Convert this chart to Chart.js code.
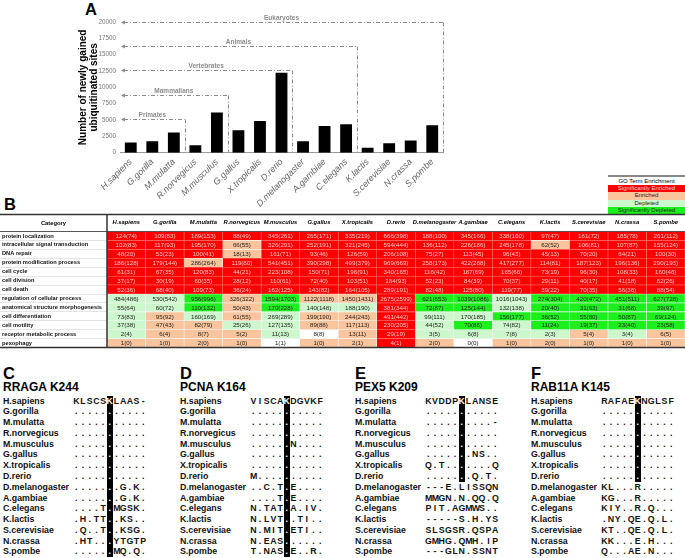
<!DOCTYPE html>
<html>
<head>
<meta charset="utf-8">
<script src="https://cdn.jsdelivr.net/npm/chart.js@4.4.1/dist/chart.umd.min.js"></script>
<style>
  body { margin: 0; background: #fff; font-family: "Liberation Sans", Arial, sans-serif; }
  #page { position: relative; width: 685px; height: 558px; overflow: hidden; }
  .abs { position: absolute; }
  .letter { font-weight: bold; font-size: 16.5px; line-height: 1; }
  .gene { font-weight: bold; font-size: 12px; line-height: 1; }
  .row { position: absolute; height: 10.77px; line-height: 10.77px; font-weight: bold; font-size: 8.8px; white-space: nowrap; color: #111; }
  .row .sq { position: absolute; top: 0; }
  .row .c { display: inline-block; width: 6.7px; text-align: center; }
  .row .on { color: #fff; }
  .hlcol { position: absolute; background: #000; width: 6.7px; }
  #legend { position: absolute; left: 608px; top: 175px; width: 77px; font-size: 6px; text-align: center; }
  #legend div { height: 7.3px; line-height: 7.3px; }
</style>
</head>
<body>
<div id="page">
  <div class="abs letter" style="left:85px;top:1px">A</div>
  <div class="abs" style="left:78px;top:0;width:372px;height:210px"><canvas id="barChart" width="372" height="210"></canvas></div>

  <div id="legend">
    <div style="height:8px;line-height:8px;border-top:2px solid #888;color:#000">GO Term Enrichment</div>
    <div style="background:#ff0000;color:#ffd0d0">Significantly Enriched</div>
    <div style="background:#fac59c;color:#222">Enriched</div>
    <div style="background:#cdf7cd;color:#222">Depleted</div>
    <div style="background:#1cf01c;color:#222">Significantly Depleted</div>
  </div>

  <div class="abs letter" style="left:4px;top:196px">B</div>
  <div class="abs" style="left:0;top:212px;width:685px;height:142px"><canvas id="heatChart" width="685" height="142"></canvas></div>

  <div id="alignments"></div>
</div>

<script>
// Panel A: newly gained ubiquitination sites per species
const species = ['H.sapiens', 'G.gorilla', 'M.mulatta', 'R.norvegicus', 'M.musculus', 'G.gallus', 'X.tropicalis',
  'D.rerio', 'D.melanogaster', 'A.gambiae', 'C.elegans', 'K.lactis', 'S.cerevisiae', 'N.crassa', 'S.pombe'];
const gainedSites = [1550, 1750, 3100, 1150, 6150, 3450, 4850, 12250, 1750, 4100, 4350, 750, 1450, 1850, 4200];
const yTicks = [0, 2500, 5000, 7500, 10000, 12500, 15000, 17500, 20000];

// clade brackets drawn over the bars
const clades = ['Primates', 'Mammalians', 'Vertebrates', 'Animals', 'Eukaryotes'];
const cladeLevels = [5100, 8800, 12600, 16300, 20000];
const cladeLastSpecies = ['M.mulatta', 'M.musculus', 'D.rerio', 'C.elegans', 'S.pombe'];

// Panel B: GO term enrichment, observed(expected)
const categories = ['protein localization', 'intracellular signal transduction', 'DNA repair',
  'protein modification process', 'cell cycle', 'cell division', 'cell death', 'regulation of cellular process',
  'anatomical structure morphogenesis', 'cell differentiation', 'cell motility', 'receptor metabolic process', 'pexophagy'];
const observed = [
  [124, 109, 189, 88, 345, 265, 335, 666, 188, 345, 338, 97, 161, 185, 261],
  [102, 117, 195, 66, 326, 252, 321, 594, 136, 226, 245, 62, 106, 107, 155],
  [48, 53, 100, 18, 161, 93, 126, 206, 75, 113, 96, 45, 70, 64, 100],
  [186, 179, 286, 119, 541, 390, 499, 969, 258, 422, 417, 114, 187, 196, 290],
  [61, 67, 120, 44, 223, 150, 196, 340, 116, 187, 165, 73, 96, 108, 160],
  [37, 30, 60, 28, 110, 72, 103, 184, 52, 84, 70, 29, 40, 41, 62],
  [52, 68, 109, 36, 162, 143, 164, 289, 82, 125, 119, 39, 70, 56, 88],
  [484, 530, 956, 326, 1594, 1122, 1450, 2675, 621, 1039, 1016, 274, 420, 451, 627],
  [55, 60, 110, 50, 170, 140, 188, 381, 72, 125, 132, 20, 31, 31, 39],
  [73, 95, 160, 61, 269, 199, 244, 491, 99, 170, 156, 36, 55, 50, 69],
  [37, 47, 82, 25, 127, 89, 117, 230, 44, 70, 74, 11, 19, 23, 23],
  [2, 6, 8, 5, 11, 8, 13, 29, 3, 6, 7, 2, 5, 3, 6],
  [1, 1, 2, 1, 1, 1, 2, 4, 2, 0, 1, 2, 1, 1, 1]
];
const expected = [
  [74, 83, 153, 49, 261, 171, 219, 398, 100, 166, 160, 47, 72, 78, 112],
  [83, 93, 170, 55, 291, 191, 245, 444, 112, 186, 178, 52, 81, 87, 124],
  [20, 23, 41, 13, 71, 46, 59, 108, 27, 45, 43, 13, 20, 21, 30],
  [128, 144, 264, 80, 451, 298, 379, 669, 173, 288, 277, 81, 123, 136, 193],
  [31, 35, 83, 21, 108, 71, 91, 165, 42, 69, 66, 19, 30, 33, 46],
  [17, 19, 35, 12, 61, 40, 51, 93, 23, 39, 37, 11, 17, 18, 26],
  [36, 40, 73, 24, 125, 82, 105, 191, 48, 80, 77, 22, 35, 36, 54],
  [486, 542, 996, 322, 1703, 1118, 1431, 2599, 653, 1086, 1043, 304, 472, 511, 728],
  [64, 72, 132, 43, 228, 148, 190, 344, 87, 144, 138, 40, 63, 68, 97],
  [83, 92, 169, 55, 289, 190, 243, 442, 111, 185, 177, 52, 80, 87, 124],
  [38, 43, 79, 26, 135, 88, 113, 205, 52, 86, 82, 24, 37, 40, 58],
  [4, 4, 7, 2, 13, 8, 11, 19, 5, 8, 8, 3, 4, 4, 5],
  [0, 0, 0, 0, 1, 0, 1, 1, 0, 0, 0, 0, 0, 0, 0]
];
// 2 significantly enriched, 1 enriched, 0 equal, -1 depleted, -2 significantly depleted
const enrichment = [
  [2, 2, 2, 2, 2, 2, 2, 2, 2, 2, 2, 2, 2, 2, 2],
  [2, 2, 2, 1, 2, 2, 2, 2, 2, 2, 2, 1, 2, 2, 2],
  [2, 2, 2, 1, 2, 2, 2, 2, 2, 2, 2, 2, 2, 2, 2],
  [2, 2, 1, 2, 2, 2, 2, 2, 2, 2, 2, 2, 2, 2, 2],
  [2, 2, 2, 2, 2, 2, 2, 2, 2, 2, 2, 2, 2, 2, 2],
  [2, 2, 2, 2, 2, 2, 2, 2, 2, 2, 2, 2, 2, 2, 2],
  [2, 2, 2, 2, 2, 2, 2, 2, 2, 2, 2, 2, 2, 2, 2],
  [-1, -1, -2, 1, -2, 1, 1, 2, -2, -2, -1, -2, -2, -2, -2],
  [-1, -1, -2, 1, -2, -1, -1, 2, -2, -2, -1, -2, -2, -2, -2],
  [-1, 1, -1, 1, -1, 1, 1, 2, -1, -1, -2, -2, -2, -2, -2],
  [-1, 1, 1, -1, -1, 1, 1, 2, -1, -2, -1, -2, -2, -2, -2],
  [-1, 1, 1, 1, -1, 0, 1, 2, -1, -1, -1, -1, 1, -1, 1],
  [1, 1, 1, 1, 0, 1, 1, 2, 1, 0, 1, 1, 1, 1, 1]
];

// Panels C-F: alignments around the ubiquitinated lysine
const alignGenes = ['RRAGA K244', 'PCNA K164', 'PEX5 K209', 'RAB11A K145'];
const rragaSeqs = ['KLSCSKLAAS-', '...........', '...........', '...........', '...........', '...........',
  '...........', '...........', '.......G.K.', '.......G.K.', '....T.MGSK.', '.H.TT..KS..', '.Q..T..KSG.',
  '.HT...YTGTP', '......MQ.Q.'];
const pcnaSeqs = ['VISCAKDGVKF', '...........', '...........', '...........', '......N....', '...........',
  '...........', 'M..........', '..C.T.E....', '....T.E....', 'N.TAT.A.IV.', 'N.LVT..TI..', 'N.MIT.ETI..',
  'N.EAS......', 'T.NAS.E..R.'];
const pex5Seqs = ['KVDDPKLANSE', '...........', '..........-', '...........', '...........', '.......NS..',
  'Q.T.......Q', '.......Q.T.', '---E.LISSQN', 'MMGN.N.QQ.Q', 'PIT.AGMWS..', '-----S.H.YS', 'SLSGSR.QSPA',
  'GMHG.QMH.IP', '---GLN.SSNT'];
const rab11aSeqs = ['RAFAEKNGLSF', '...........', '...........', '...........', '...........', '...........',
  '...........', '...........', 'KL...R.....', 'KG...R.....', 'KIY..R.Q...', '.NY.QE.Q.L.', 'KT..QE.Q.L.',
  'KK...E.H...', 'Q...AE.N...'];
const alignSeqs = [rragaSeqs, pcnaSeqs, pex5Seqs, rab11aSeqs];
const highlightedRows = [15, 15, 8, 8];

// ---------- Panel A ----------
const cladePlugin = {
  id: 'clades',
  afterDatasetsDraw(chart) {
    const { ctx, chartArea: a, scales: { x, y } } = chart;
    const y0 = y.getPixelForValue(0);
    ctx.save();
    ctx.strokeStyle = '#8c8c8c';
    ctx.fillStyle = '#8c8c8c';
    ctx.lineWidth = 1;
    clades.forEach((name, i) => {
      const idx = species.indexOf(cladeLastSpecies[i]);
      const xr = idx === species.length - 1 ? a.right : (x.getPixelForValue(idx) + x.getPixelForValue(idx + 1)) / 2;
      const yy = Math.round(y.getPixelForValue(cladeLevels[i])) + 0.5;
      ctx.setLineDash([4, 2, 1, 2]);
      ctx.beginPath();
      ctx.moveTo(a.left + 4, yy);
      ctx.lineTo(xr, yy);
      ctx.moveTo(Math.round(xr) + 0.5, yy);
      ctx.lineTo(Math.round(xr) + 0.5, y0);
      ctx.stroke();
      ctx.setLineDash([]);
      ctx.beginPath();
      ctx.moveTo(a.left + 1, yy);
      ctx.lineTo(a.left + 5, yy - 2);
      ctx.lineTo(a.left + 5, yy + 2);
      ctx.closePath();
      ctx.fill();
      ctx.font = 'bold 6.5px "Liberation Sans", Arial, sans-serif';
      ctx.textAlign = 'center';
      ctx.textBaseline = 'bottom';
      ctx.fillText(name, (a.left + xr) / 2, yy - 1.5);
    });
    ctx.restore();
  }
};

new Chart(document.getElementById('barChart'), {
  type: 'bar',
  data: {
    labels: species,
    datasets: [{ data: gainedSites, backgroundColor: '#000', barPercentage: 0.55, categoryPercentage: 1 }]
  },
  options: {
    responsive: false,
    animation: false,
    layout: { padding: { top: 22, right: 7, left: 0, bottom: 0 } },
    plugins: { legend: { display: false }, tooltip: { enabled: false } },
    scales: {
      x: {
        grid: { display: false, drawTicks: false },
        border: { color: '#999' },
        ticks: { color: '#666', font: { size: 9, style: 'italic' }, minRotation: 45, maxRotation: 45, padding: 4, autoSkip: false },
        afterFit(s) { s.height = 57.3; }
      },
      y: {
        min: 0, max: 20000,
        afterBuildTicks(s) { s.ticks = yTicks.map(v => ({ value: v })); },
        grid: { display: false, drawTicks: false },
        border: { display: false },
        ticks: { color: '#777', font: { size: 6.3 }, padding: 4, callback: v => String(v) },
        title: { display: true, text: ['Number of newly gained', 'ubiquitinated sites'], color: '#000',
          font: { size: 10, weight: 'bold', lineHeight: 1.05 }, padding: { top: 0, bottom: 2 } },
        afterFit(s) { s.width = 42; }
      }
    }
  },
  plugins: [cladePlugin]
});

// ---------- Panel B ----------
const enrichColors = { '2': '#ff0000', '1': '#fac59c', '0': '#ffffff', '-1': '#cdf7cd', '-2': '#1cf01c' };

const tablePlugin = {
  id: 'tableText',
  afterDatasetsDraw(chart) {
    const { ctx, chartArea: a, width } = chart;
    ctx.save();
    ctx.font = '6.2px "Liberation Sans", Arial, sans-serif';
    ctx.textAlign = 'center';
    ctx.textBaseline = 'middle';
    chart.data.datasets.forEach((ds, j) => {
      chart.getDatasetMeta(j).data.forEach((bar, i) => {
        ctx.fillStyle = enrichment[i][j] === 2 ? 'rgba(255,220,220,0.9)' : '#222';
        ctx.fillText(observed[i][j] + '(' + expected[i][j] + ')', (bar.x + bar.base) / 2, bar.y + 0.5);
      });
    });
    ctx.fillStyle = '#000';
    ctx.font = 'bold 5.8px "Liberation Sans", Arial, sans-serif';
    ctx.fillText('Category', a.left / 2, 11);
    ctx.strokeStyle = '#333';
    ctx.lineWidth = 1.5;
    ctx.beginPath();
    ctx.moveTo(0, 2.5); ctx.lineTo(width, 2.5);
    ctx.moveTo(0, a.bottom); ctx.lineTo(width, a.bottom);
    ctx.moveTo(a.left, 2); ctx.lineTo(a.left, a.bottom);
    ctx.stroke();
    ctx.lineWidth = 0.8;
    ctx.beginPath();
    ctx.moveTo(0, a.top); ctx.lineTo(width, a.top);
    ctx.stroke();
    ctx.restore();
  }
};

new Chart(document.getElementById('heatChart'), {
  type: 'bar',
  data: {
    labels: categories,
    datasets: species.map((sp, j) => ({
      label: sp,
      data: categories.map(() => [j - 0.5, j + 0.5]),
      backgroundColor: categories.map((c, i) => enrichColors[enrichment[i][j]]),
      borderColor: categories.map((c, i) => enrichment[i][j] === 2 ? '#ff7a7a' : '#f4f4f4'),
      borderWidth: 0.6,
      borderSkipped: false,
      barPercentage: 1,
      categoryPercentage: 1,
      grouped: false
    }))
  },
  options: {
    indexAxis: 'y',
    responsive: false,
    animation: false,
    layout: { padding: { left: 2, right: 0, top: 0, bottom: 2.5 } },
    plugins: { legend: { display: false }, tooltip: { enabled: false } },
    scales: {
      x: {
        type: 'linear', position: 'top', min: -0.5, max: 14.5,
        afterBuildTicks(s) { s.ticks = species.map((sp, j) => ({ value: j })); },
        ticks: { callback: v => species[v], autoSkip: false, maxRotation: 0, color: '#000',
          font: { size: 5.8, weight: 'bold', style: 'italic' }, padding: 5.5 },
        grid: { display: false, drawTicks: false },
        border: { display: false },
        afterFit(s) { s.height = 19.5; }
      },
      y: {
        ticks: { crossAlign: 'far', autoSkip: false, color: '#111', font: { size: 5.7, weight: 'bold' } },
        grid: { color: '#d4d4d4', lineWidth: 0.6, tickLength: 107 },
        border: { display: false },
        afterFit(s) { s.width = 105; }
      }
    }
  },
  plugins: [tablePlugin]
});

// ---------- Panels C-F ----------
const panelX = [3, 180, 355, 531];
const rowTop = 395.6, rowH = 10.77, seqOffset = 70, pitch = 6.7;
const host = document.getElementById('alignments');
alignGenes.forEach((gene, p) => {
  const x0 = panelX[p];
  let html = '<div class="abs letter" style="left:' + x0 + 'px;top:365px">' + 'CDEF'[p] + '</div>';
  html += '<div class="abs gene" style="left:' + x0 + 'px;top:381px">' + gene + '</div>';
  html += '<div class="hlcol" style="left:' + (x0 + seqOffset + 5 * pitch) + 'px;top:' + rowTop +
    'px;height:' + (highlightedRows[p] * rowH) + 'px"></div>';
  species.forEach((sp, r) => {
    const chars = alignSeqs[p][r].split('').map((ch, k) =>
      '<span class="c' + (k === 5 && r < highlightedRows[p] ? ' on' : '') + '">' + ch + '</span>').join('');
    html += '<div class="row" style="left:' + x0 + 'px;top:' + (rowTop + r * rowH) + 'px"><span>' + sp +
      '</span><span class="sq" style="left:' + seqOffset + 'px">' + chars + '</span></div>';
  });
  host.insertAdjacentHTML('beforeend', html);
});
</script>
</body>
</html>
